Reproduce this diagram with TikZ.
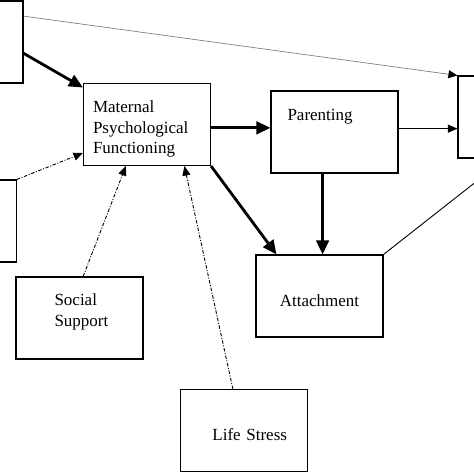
\documentclass[tikz,border=0pt]{standalone}
\usepackage{fontspec}
\setmainfont{Liberation Serif}
\usetikzlibrary{arrows.meta}

\begin{document}
\begin{tikzpicture}[x=1pt,y=-1pt,
  boxnode/.style={draw,line width=1.1pt,minimum width=127pt,minimum height=82pt,inner sep=0pt,
    font=\fontsize{17}{20.5}\selectfont},
  thickarrow/.style={line width=2.8pt,-{Triangle[length=14pt,width=12.5pt]}},
  thinarrow/.style={line width=0.9pt,-{Triangle[length=9.5pt,width=8pt]}},
  dasharrow/.style={line width=0.9pt,dash pattern=on 3.5pt off 1.6pt on 1pt off 1.6pt,
    -{Triangle[length=9.5pt,width=8pt]}}]
% the three outer boxes run past the edge of the figure
\clip (0,0) rectangle (474,474);
\node[boxnode] (leftupper) at (-40.5,42) {};
\node[boxnode] (leftlower) at (-47.2,221) {};
\node[boxnode] (outcome) at (521.5,117) {};

\node[boxnode,text width=108pt,align=left,text height=11.6pt,text depth=35pt] (mpf) at (147,124.5)
  {Maternal\\Psychological\\Functioning};
\node[boxnode,text width=94pt,align=left,text height=12pt,text depth=36pt] (parenting) at (334.5,132) {Parenting};
\node[boxnode,text height=20.6pt,text depth=0pt] (attach) at (319.5,296) {Attachment};
\node[boxnode,text width=50pt,align=left,text height=11.6pt,text depth=36pt] (social) at (79.5,318) {Social\\Support};
\node[boxnode,text width=86pt,align=right,text height=20.4pt,text depth=0pt] (stress) at (244,430.5) {Life Stress};

\draw[line width=0.7pt,black!50,-{Triangle[length=9pt,width=8pt,color=black]}] (leftupper.22) -- (outcome.north west);
\draw[thickarrow] (leftupper.-10) -- (mpf.150);
\draw[dasharrow] (leftlower.north east) -- (mpf.204);
\draw[thickarrow] (mpf.-3) -- (mpf.-3 -| parenting.west);
\draw[thinarrow] (parenting.3) -- (parenting.3 -| outcome.west);
\draw[thickarrow] (mpf.south east) -- (attach.136);
\draw[thickarrow] (parenting.254) -- (parenting.254 |- attach.north);
\draw[thinarrow] (attach.north east) -- (outcome.249);
\draw[dasharrow] (social.85) -- (mpf.243);
\draw[dasharrow] (stress.105) -- (mpf.312);
\end{tikzpicture}
\end{document}
